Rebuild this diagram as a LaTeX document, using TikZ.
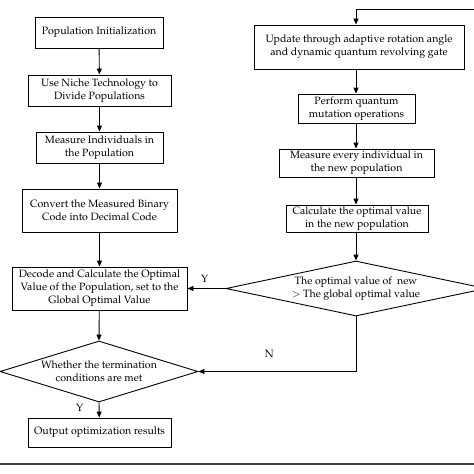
\documentclass[tikz,border=0pt]{standalone}
\usepackage[T1]{fontenc}
\renewcommand{\rmdefault}{ppl}
\usetikzlibrary{arrows.meta,shapes.geometric}
\tikzset{
  box/.style={draw, line width=0.9pt, align=center, inner sep=0pt, font=\fontsize{10.6}{13}\selectfont},
  dia/.style={draw, diamond, line width=0.9pt, inner sep=0pt},
  lbl/.style={align=center, font=\fontsize{10.6}{13}\selectfont},
  arr/.style={line width=0.9pt, -{Triangle[length=6pt,width=5pt]}},
  ln/.style={line width=0.9pt}
}
\begin{document}
\begin{tikzpicture}[x=1pt,y=-1pt]
\useasboundingbox (0,0) rectangle (474,474);
\clip (0,0) rectangle (474,474);
\fill[white] (0,0) rectangle (474,474);
% left column
\node[box, minimum width=128, minimum height=31] (init) at (99,32.5) {Population Initialization};
\node[box, minimum width=143, minimum height=31] (niche) at (99.5,90.5) {Use Niche Technology to\\Divide Populations};
\node[box, minimum width=127, minimum height=31] (meas) at (99.5,147.5) {Measure Individuals in\\the Population};
\node[box, minimum width=155, minimum height=43] (conv) at (99.5,210.5) {Convert the Measured Binary\\Code into Decimal Code};
\node[box, minimum width=175, minimum height=43] (dec) at (99.5,288.5) {Decode and Calculate the Optimal\\Value of the Population, set to the\\Global Optimal Value};
\node[dia, minimum width=198, minimum height=61] (wh) at (99,371.5) {};
\node[lbl] (whtxt) at (99,371.5) {Whether the termination\\conditions are met};
\node[box, minimum width=143, minimum height=29] (out) at (99.5,432.5) {Output optimization results};
% right column
\node[box, minimum width=210, minimum height=44] (upd) at (359,47) {Update through adaptive rotation angle\\and dynamic quantum revolving gate};
\node[box, minimum width=117, minimum height=29] (perf) at (356.5,108.5) {Perform quantum\\mutation operations};
\node[box, minimum width=155, minimum height=28] (mev) at (356.5,163) {Measure every individual in\\the new population};
\node[box, minimum width=142, minimum height=27] (calc) at (357,218.5) {Calculate the optimal value\\in the new population};
\node[dia, minimum width=260, minimum height=55] (cmp) at (356,288.5) {};
\node[lbl] (cmptxt) at (356,288.5) {The optimal value of\ \ new\\$>$ The global optimal value};
% connectors
\draw[arr] (init) -- (niche);
\draw[arr] (niche) -- (meas);
\draw[arr] (meas) -- (conv);
\draw[arr] (conv) -- (dec);
\draw[arr] (dec) -- (wh.north);
\draw[arr] (wh.south) -- node[lbl, pos=0.35, left=12pt] (ylbl) {Y} (out);
\coordinate (loopin) at (480,9);
\draw[arr] (loopin) -- (356,9) -- (356,0 |- upd.north);
\draw[arr] (356,0 |- upd.south) -- (356,0 |- perf.north);
\draw[arr] (356,0 |- perf.south) -- (356,0 |- mev.north);
\draw[arr] (356,0 |- mev.south) -- (356,0 |- calc.north);
\draw[arr] (356,0 |- calc.south) -- (cmp.north);
\draw[arr] (cmp.west) -- node[lbl, above=2pt, pos=0.55] (y2) {Y} (dec.east);
\draw[arr] (cmp.south) -- (cmp.south |- wh.east) -- node[lbl, pos=0.55, above=10pt] (nlbl) {N} (wh.east);
% figure rule
\draw[line width=1.3pt, black!75] (0,464) -- (474,464);
\end{tikzpicture}
\end{document}
